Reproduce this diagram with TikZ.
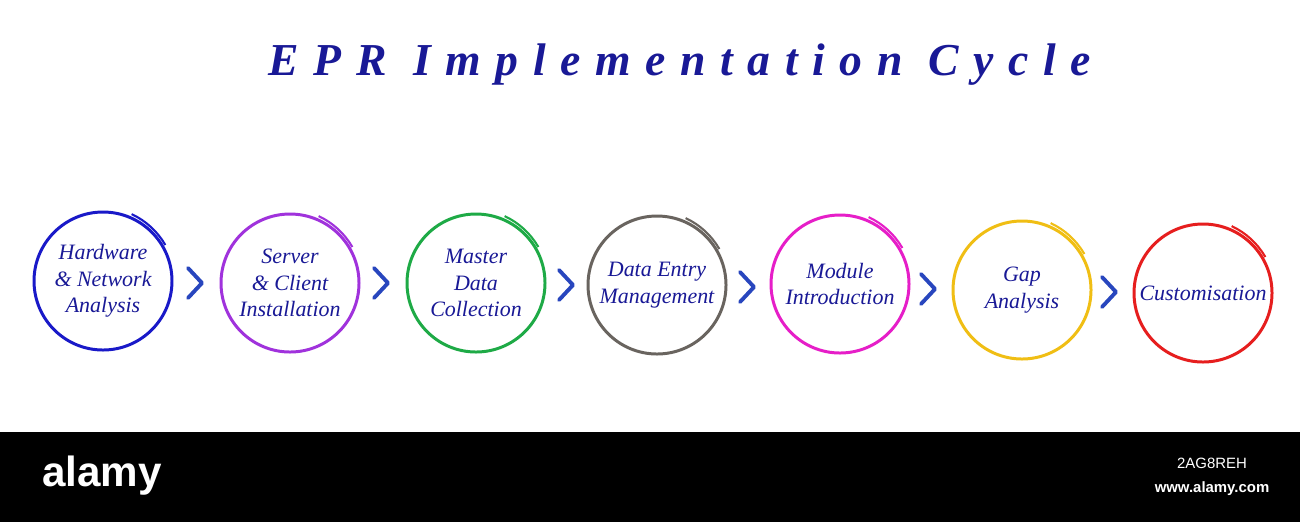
\documentclass[tikz,border=0pt]{standalone}
\usepackage{fontspec}
\setmainfont{Liberation Serif}
\newfontfamily\barfont{Liberation Sans}
\begin{document}
\begin{tikzpicture}[x=0.02cm,y=-0.02cm,
  lbl/.style={font=\fontsize{12.5}{15}\selectfont\itshape, text=titleblue, align=center},
  chev/.style={draw=chevblue, line width=2.2pt, line cap=round, line join=round}]
\definecolor{titleblue}{RGB}{25,25,150}
\definecolor{chevblue}{RGB}{40,70,190}
\useasboundingbox (0,0) rectangle (1300,522);
\fill[white] (0,0) rectangle (1300,522);
\node[font=\fontsize{26}{30}\selectfont\bfseries\itshape\addfontfeature{LetterSpace=32}, text=titleblue] (title) at (680,65) {EPR Implementation Cycle};
\foreach \i/\x/\y/\c/\t in {
 1/103/281/{25,25,200}/{Hardware\\\& Network\\Analysis},
 2/290/283/{160,50,220}/{Server\\\& Client\\Installation},
 3/476/283/{30,170,70}/{Master\\Data\\Collection},
 4/657/285/{105,100,95}/{Data Entry\\Management},
 5/840/284/{230,30,200}/{Module\\Introduction},
 6/1022/290/{240,190,20}/{Gap\\Analysis},
 7/1203/293/{230,30,30}/{Customisation}}{
  \definecolor{cc}{RGB}{\c}
  \draw[cc, line width=1.7pt] (\x,\y) circle[radius=69];
  \draw[cc, line width=1.2pt] ([shift={(\x,\y)}]-30:72) arc[start angle=-30, end angle=-65, radius=76];
  \node[lbl] (n\i) at (\x,\y) {\t};
}
\foreach \x/\y in {195/283, 381/283, 566/285, 747/287, 928/289, 1109/292}{
  \draw[chev] (\x-7,\y-15) -- (\x+7,\y) -- (\x-7,\y+15);
}
\fill[black] (0,432) rectangle (1300,522);
\node[font=\barfont\fontsize{24}{28}\selectfont\bfseries, text=white] (al) at (102,476) {alamy};
\node[font=\barfont\fontsize{8.5}{10}\selectfont, text=white] (id) at (1212,463) {2AG8REH};
\node[font=\barfont\fontsize{8.5}{10}\selectfont\bfseries, text=white] (url) at (1212,489) {www.alamy.com};
\end{tikzpicture}
\end{document}
